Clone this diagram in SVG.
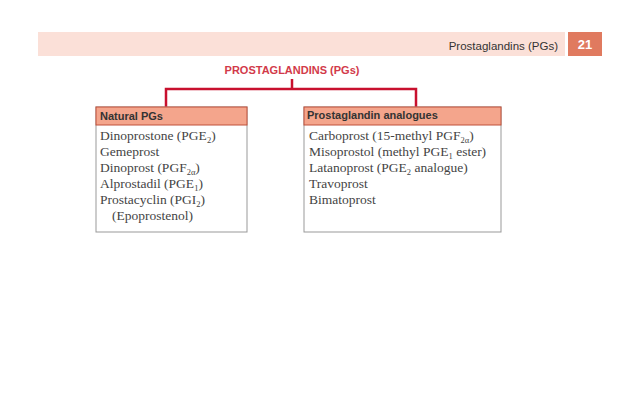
<svg xmlns="http://www.w3.org/2000/svg" width="638" height="420" viewBox="0 0 638 420">
<style>
.hd{font-family:"Liberation Sans",Arial,sans-serif;font-weight:bold;font-size:11px;fill:#333}
.it{font-family:"Liberation Serif","Times New Roman",serif;font-size:13.5px;fill:#444}
.box{fill:#fff;stroke:#999;stroke-width:1}
.hbox{fill:#f4a58c;stroke:#c0503a;stroke-width:1}
</style>
<rect width="638" height="420" fill="#fff"/>
<g id="banner">
<rect x="38" y="32" width="527" height="24" fill="#fbe0d8"/>
<text x="558" y="50" text-anchor="end" font-family="Liberation Sans,Arial,sans-serif" font-size="11.5" fill="#333">Prostaglandins (PGs)</text>
<rect x="568" y="32" width="34" height="24" fill="#e07a5f"/>
<text x="585" y="49" text-anchor="middle" font-family="Liberation Sans,Arial,sans-serif" font-size="13" font-weight="bold" fill="#fff">21</text>
</g>
<g id="title"><text x="292" y="74" text-anchor="middle" font-family="Liberation Sans,Arial,sans-serif" font-weight="bold" font-size="11" fill="#d23a4a">PROSTAGLANDINS (PGs)</text></g>
<g id="connectors" fill="none" stroke="#c8102e" stroke-width="2.5">
<path d="M292 79 V89 M166 107 V89 H416 V107"/>
</g>
<g id="natural">
<rect class="box" x="96" y="107" width="151" height="125"/>
<rect class="hbox" x="96" y="107" width="151" height="18"/>
<text class="hd" x="100" y="120">Natural PGs</text>
<text class="it" x="100" y="140">Dinoprostone (PGE<tspan font-size="8.5" dy="3">2</tspan><tspan dy="-3">)</tspan></text>
<text class="it" x="100" y="156">Gemeprost</text>
<text class="it" x="100" y="172">Dinoprost (PGF<tspan font-size="8.5" dy="3">2α</tspan><tspan dy="-3">)</tspan></text>
<text class="it" x="100" y="188">Alprostadil (PGE<tspan font-size="8.5" dy="3">1</tspan><tspan dy="-3">)</tspan></text>
<text class="it" x="100" y="204">Prostacyclin (PGI<tspan font-size="8.5" dy="3">2</tspan><tspan dy="-3">)</tspan></text>
<text class="it" x="112" y="220">(Epoprostenol)</text>
</g>
<g id="analogues">
<rect class="box" x="304" y="107" width="197" height="125"/>
<rect class="hbox" x="304" y="107" width="197" height="18"/>
<text class="hd" x="307" y="119">Prostaglandin analogues</text>
<text class="it" x="309" y="140">Carboprost (15-methyl PGF<tspan font-size="8.5" dy="3">2α</tspan><tspan dy="-3">)</tspan></text>
<text class="it" x="309" y="156">Misoprostol (methyl PGE<tspan font-size="8.5" dy="3">1</tspan><tspan dy="-3"> ester)</tspan></text>
<text class="it" x="309" y="172">Latanoprost (PGE<tspan font-size="8.5" dy="3">2</tspan><tspan dy="-3"> analogue)</tspan></text>
<text class="it" x="309" y="188">Travoprost</text>
<text class="it" x="309" y="204">Bimatoprost</text>
</g>
</svg>
